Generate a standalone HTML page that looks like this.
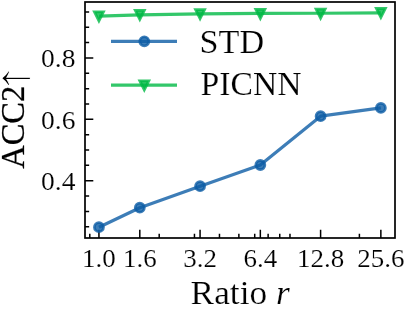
<!DOCTYPE html>
<html><head><meta charset="utf-8"><title>chart</title>
<style>html,body{margin:0;padding:0;background:#fff}svg{display:block}</style>
</head><body>
<svg width="406" height="312" viewBox="0 0 406 312">
<rect width="406" height="312" fill="#fff"/>
<path d="M89.78 238.0 V233.85 M159.20 238.0 V233.85 M194.46 238.0 V233.85 M219.47 238.0 V233.85 M238.87 238.0 V233.85 M254.72 238.0 V233.85 M268.13 238.0 V233.85 M279.74 238.0 V233.85 M289.98 238.0 V233.85 M359.40 238.0 V233.85 M98.94 238.0 V229.70 M139.80 238.0 V229.70 M200.07 238.0 V229.70 M260.33 238.0 V229.70 M320.60 238.0 V229.70 M380.86 238.0 V229.70 M85.0 226.75 H89.15 M85.0 211.40 H89.15 M85.0 196.06 H89.15 M85.0 180.71 H93.30 M85.0 165.37 H89.15 M85.0 150.02 H89.15 M85.0 134.68 H89.15 M85.0 119.33 H93.30 M85.0 103.99 H89.15 M85.0 88.64 H89.15 M85.0 73.30 H89.15 M85.0 57.95 H93.30 M85.0 42.60 H89.15 M85.0 27.26 H89.15 M85.0 11.91 H89.15" stroke="#000" stroke-width="1.5" fill="none"/>
<path d="M98.94 227.20 L139.80 207.70 L200.07 186.20 L260.33 165.00 L320.60 116.20 L380.86 107.90" fill="none" stroke="#0C5DA5" stroke-opacity="0.8" stroke-width="3.2" stroke-linejoin="round"/><circle cx="98.94" cy="227.20" r="4.5" fill="#0C5DA5" fill-opacity="0.8" stroke="#0C5DA5" stroke-opacity="0.8" stroke-width="2.77"/><circle cx="139.80" cy="207.70" r="4.5" fill="#0C5DA5" fill-opacity="0.8" stroke="#0C5DA5" stroke-opacity="0.8" stroke-width="2.77"/><circle cx="200.07" cy="186.20" r="4.5" fill="#0C5DA5" fill-opacity="0.8" stroke="#0C5DA5" stroke-opacity="0.8" stroke-width="2.77"/><circle cx="260.33" cy="165.00" r="4.5" fill="#0C5DA5" fill-opacity="0.8" stroke="#0C5DA5" stroke-opacity="0.8" stroke-width="2.77"/><circle cx="320.60" cy="116.20" r="4.5" fill="#0C5DA5" fill-opacity="0.8" stroke="#0C5DA5" stroke-opacity="0.8" stroke-width="2.77"/><circle cx="380.86" cy="107.90" r="4.5" fill="#0C5DA5" fill-opacity="0.8" stroke="#0C5DA5" stroke-opacity="0.8" stroke-width="2.77"/>
<path d="M98.94 16.10 L139.80 14.85 L200.07 13.95 L260.33 13.35 L320.60 13.25 L380.86 12.90" fill="none" stroke="#00B945" stroke-opacity="0.8" stroke-width="3.2" stroke-linejoin="round"/><path d="M94.44 11.80 H103.44 L98.94 20.80 Z" fill="#00B945" fill-opacity="0.8" stroke="#00B945" stroke-opacity="0.8" stroke-width="2.77" stroke-linejoin="miter"/><path d="M135.30 10.45 H144.30 L139.80 19.45 Z" fill="#00B945" fill-opacity="0.8" stroke="#00B945" stroke-opacity="0.8" stroke-width="2.77" stroke-linejoin="miter"/><path d="M195.57 9.70 H204.57 L200.07 18.70 Z" fill="#00B945" fill-opacity="0.8" stroke="#00B945" stroke-opacity="0.8" stroke-width="2.77" stroke-linejoin="miter"/><path d="M255.83 9.40 H264.83 L260.33 18.40 Z" fill="#00B945" fill-opacity="0.8" stroke="#00B945" stroke-opacity="0.8" stroke-width="2.77" stroke-linejoin="miter"/><path d="M316.10 9.20 H325.10 L320.60 18.20 Z" fill="#00B945" fill-opacity="0.8" stroke="#00B945" stroke-opacity="0.8" stroke-width="2.77" stroke-linejoin="miter"/><path d="M376.36 8.50 H385.36 L380.86 17.50 Z" fill="#00B945" fill-opacity="0.8" stroke="#00B945" stroke-opacity="0.8" stroke-width="2.77" stroke-linejoin="miter"/>
<rect x="85.0" y="2.0" width="310.0" height="236.0" fill="none" stroke="#000" stroke-width="1.7"/>
<path d="M111 41.4 H177" fill="none" stroke="#0C5DA5" stroke-opacity="0.8" stroke-width="3.2"/><circle cx="144.30" cy="41.30" r="4.5" fill="#0C5DA5" fill-opacity="0.8" stroke="#0C5DA5" stroke-opacity="0.8" stroke-width="2.77"/>
<path d="M111 85.2 H177" fill="none" stroke="#00B945" stroke-opacity="0.8" stroke-width="3.2"/><path d="M139.80 80.85 H148.80 L144.30 89.85 Z" fill="#00B945" fill-opacity="0.8" stroke="#00B945" stroke-opacity="0.8" stroke-width="2.77" stroke-linejoin="miter"/>
<g font-family="'Liberation Serif', serif" fill="#000" stroke="#fff" stroke-width="0.2">
<text x="199.6" y="52.8" font-size="33.4" textLength="64.5" lengthAdjust="spacingAndGlyphs">STD</text>
<text x="200.6" y="95.3" font-size="33.4" textLength="101.0" lengthAdjust="spacingAndGlyphs">PICNN</text>
<text x="75.4" y="67.20" font-size="25.8" stroke-width="0.15" text-anchor="end" textLength="34.35" lengthAdjust="spacingAndGlyphs">0.8</text>
<text x="75.4" y="128.58" font-size="25.8" stroke-width="0.15" text-anchor="end" textLength="34.35" lengthAdjust="spacingAndGlyphs">0.6</text>
<text x="75.4" y="189.96" font-size="25.8" stroke-width="0.15" text-anchor="end" textLength="34.35" lengthAdjust="spacingAndGlyphs">0.4</text>
<text x="98.94" y="266.5" font-size="25.8" stroke-width="0.15" text-anchor="middle" textLength="33.70" lengthAdjust="spacingAndGlyphs">1.0</text>
<text x="139.80" y="266.5" font-size="25.8" stroke-width="0.15" text-anchor="middle" textLength="33.70" lengthAdjust="spacingAndGlyphs">1.6</text>
<text x="200.07" y="266.5" font-size="25.8" stroke-width="0.15" text-anchor="middle" textLength="33.70" lengthAdjust="spacingAndGlyphs">3.2</text>
<text x="260.33" y="266.5" font-size="25.8" stroke-width="0.15" text-anchor="middle" textLength="33.70" lengthAdjust="spacingAndGlyphs">6.4</text>
<text x="320.60" y="266.5" font-size="25.8" stroke-width="0.15" text-anchor="middle" textLength="47.18" lengthAdjust="spacingAndGlyphs">12.8</text>
<text x="380.86" y="266.5" font-size="25.8" stroke-width="0.15" text-anchor="middle" textLength="47.18" lengthAdjust="spacingAndGlyphs">25.6</text>
<text x="240.2" y="304.3" font-size="33.4" text-anchor="middle" textLength="99.2" lengthAdjust="spacingAndGlyphs">Ratio <tspan font-style="italic">r</tspan></text>
<text transform="translate(24.0 168.8) rotate(-90)" font-size="33.4" stroke="#000" stroke-width="0.25" textLength="83.1" lengthAdjust="spacingAndGlyphs">ACC2</text>
<text transform="translate(29.0 78.2) rotate(-90) scale(1.6 1.2)" font-size="40" text-anchor="middle" stroke="#fff" stroke-width="0.9" paint-order="fill stroke">↑</text>
</g>
</svg>
</body></html>
